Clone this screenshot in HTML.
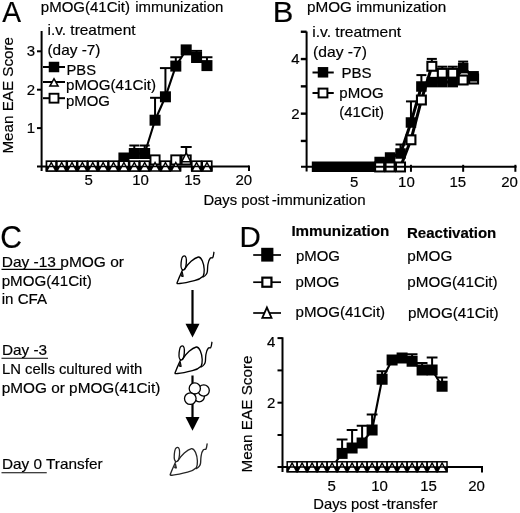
<!DOCTYPE html>
<html><head><meta charset="utf-8"><title>Figure</title>
<style>
html,body{margin:0;padding:0;background:#fff;}
svg{display:block;font-family:"Liberation Sans",Arial,Helvetica,sans-serif;fill:#000;}
text{stroke:#000;stroke-width:0.18px;}
</style></head><body>
<svg width="520" height="513" viewBox="0 0 520 513">
<rect width="520" height="513" fill="#fff"/>
<text x="2.3" y="22.10" font-size="29.9" textLength="18.8" lengthAdjust="spacingAndGlyphs">A</text>
<text x="40.8" y="12.40" font-size="15" textLength="89.2" lengthAdjust="spacingAndGlyphs">pMOG(41Cit)</text>
<text x="135.3" y="12.40" font-size="15" textLength="88" lengthAdjust="spacingAndGlyphs">immunization</text>
<text x="47.5" y="35.10" font-size="15" textLength="88" lengthAdjust="spacingAndGlyphs">i.v. treatment</text>
<text x="47.5" y="54.50" font-size="15" textLength="53" lengthAdjust="spacingAndGlyphs">(day -7)</text>
<text x="66.5" y="75.00" font-size="15" textLength="29.5" lengthAdjust="spacingAndGlyphs">PBS</text>
<text x="66" y="90.00" font-size="15" textLength="90" lengthAdjust="spacingAndGlyphs">pMOG(41Cit)</text>
<text x="66" y="105.50" font-size="15" textLength="44" lengthAdjust="spacingAndGlyphs">pMOG</text>
<text transform="translate(12.5,153.6) rotate(-90)" font-size="15" textLength="116.6" lengthAdjust="spacingAndGlyphs">Mean EAE Score</text>
<line x1="41.60" y1="31.00" x2="41.60" y2="171.00" stroke="#000" stroke-width="2" stroke-linecap="butt"/>
<line x1="37.00" y1="166.50" x2="249.00" y2="166.50" stroke="#000" stroke-width="2" stroke-linecap="butt"/>
<line x1="249.00" y1="165.50" x2="249.00" y2="171.00" stroke="#000" stroke-width="2" stroke-linecap="butt"/>
<line x1="37.00" y1="128.10" x2="41.60" y2="128.10" stroke="#000" stroke-width="2" stroke-linecap="butt"/>
<line x1="37.00" y1="89.70" x2="41.60" y2="89.70" stroke="#000" stroke-width="2" stroke-linecap="butt"/>
<line x1="37.00" y1="51.30" x2="41.60" y2="51.30" stroke="#000" stroke-width="2" stroke-linecap="butt"/>
<text x="35" y="133.00" font-size="15" text-anchor="end" textLength="8.34" lengthAdjust="spacingAndGlyphs">1</text>
<text x="35" y="94.60" font-size="15" text-anchor="end" textLength="8.34" lengthAdjust="spacingAndGlyphs">2</text>
<text x="35" y="56.20" font-size="15" text-anchor="end" textLength="8.34" lengthAdjust="spacingAndGlyphs">3</text>
<text x="88.75" y="184.50" font-size="15" text-anchor="middle" textLength="8.34" lengthAdjust="spacingAndGlyphs">5</text>
<text x="140.5" y="184.50" font-size="15" text-anchor="middle" textLength="16.68" lengthAdjust="spacingAndGlyphs">10</text>
<text x="192.5" y="184.50" font-size="15" text-anchor="middle" textLength="16.68" lengthAdjust="spacingAndGlyphs">15</text>
<text x="243.75" y="184.50" font-size="15" text-anchor="middle" textLength="16.68" lengthAdjust="spacingAndGlyphs">20</text>
<text x="203.4" y="204.50" font-size="15" textLength="65.8" lengthAdjust="spacingAndGlyphs">Days post</text>
<text x="271.8" y="204.50" font-size="15" textLength="93.8" lengthAdjust="spacingAndGlyphs">-immunization</text>
<line x1="43.00" y1="67.00" x2="65.00" y2="67.00" stroke="#000" stroke-width="2" stroke-linecap="butt"/>
<rect x="48.75" y="61.75" width="10.5" height="10.5" fill="#000"/>
<line x1="43.00" y1="82.00" x2="65.00" y2="82.00" stroke="#000" stroke-width="2" stroke-linecap="butt"/>
<polygon points="54.00,77.20 59.40,86.80 48.60,86.80" fill="#000"/>
<polygon points="54.00,80.36 56.75,85.25 51.25,85.25" fill="#fff"/>
<line x1="43.00" y1="98.20" x2="65.00" y2="98.20" stroke="#000" stroke-width="2" stroke-linecap="butt"/>
<rect x="49.55" y="93.75" width="8.90" height="8.90" fill="#fff" stroke="#000" stroke-width="1.9"/>
<polyline points="123.91,158.00 134.29,153.50 144.67,153.50 155.05,120.20 165.43,96.80 175.81,66.10 186.19,49.90 196.57,57.50 206.95,65.60" fill="none" stroke="#000" stroke-width="2.1" stroke-linejoin="round"/>
<line x1="134.29" y1="153.50" x2="134.29" y2="145.50" stroke="#000" stroke-width="2" stroke-linecap="butt"/>
<line x1="129.29" y1="145.50" x2="139.29" y2="145.50" stroke="#000" stroke-width="2" stroke-linecap="butt"/>
<line x1="144.67" y1="153.50" x2="144.67" y2="145.50" stroke="#000" stroke-width="2" stroke-linecap="butt"/>
<line x1="139.67" y1="145.50" x2="149.67" y2="145.50" stroke="#000" stroke-width="2" stroke-linecap="butt"/>
<line x1="155.05" y1="120.20" x2="155.05" y2="97.80" stroke="#000" stroke-width="2" stroke-linecap="butt"/>
<line x1="150.05" y1="97.80" x2="160.05" y2="97.80" stroke="#000" stroke-width="2" stroke-linecap="butt"/>
<line x1="165.43" y1="96.80" x2="165.43" y2="68.10" stroke="#000" stroke-width="2" stroke-linecap="butt"/>
<line x1="159.93" y1="68.10" x2="170.93" y2="68.10" stroke="#000" stroke-width="2" stroke-linecap="butt"/>
<line x1="175.81" y1="66.10" x2="175.81" y2="57.25" stroke="#000" stroke-width="2" stroke-linecap="butt"/>
<line x1="170.31" y1="57.25" x2="181.31" y2="57.25" stroke="#000" stroke-width="2" stroke-linecap="butt"/>
<line x1="196.57" y1="57.50" x2="196.57" y2="50.90" stroke="#000" stroke-width="2" stroke-linecap="butt"/>
<line x1="191.07" y1="50.90" x2="202.07" y2="50.90" stroke="#000" stroke-width="2" stroke-linecap="butt"/>
<line x1="206.95" y1="65.60" x2="206.95" y2="57.25" stroke="#000" stroke-width="2" stroke-linecap="butt"/>
<line x1="201.45" y1="57.25" x2="212.45" y2="57.25" stroke="#000" stroke-width="2" stroke-linecap="butt"/>
<rect x="118.41" y="152.50" width="11" height="11" fill="#000"/>
<rect x="128.79" y="148.00" width="11" height="11" fill="#000"/>
<rect x="139.17" y="148.00" width="11" height="11" fill="#000"/>
<rect x="149.55" y="114.70" width="11" height="11" fill="#000"/>
<rect x="159.93" y="91.30" width="11" height="11" fill="#000"/>
<rect x="170.31" y="60.60" width="11" height="11" fill="#000"/>
<rect x="180.69" y="44.40" width="11" height="11" fill="#000"/>
<rect x="191.07" y="52.00" width="11" height="11" fill="#000"/>
<rect x="201.45" y="60.10" width="11" height="11" fill="#000"/>
<rect x="150.50" y="155.35" width="9.10" height="9.10" fill="#fff" stroke="#000" stroke-width="1.9"/>
<rect x="171.26" y="155.35" width="9.10" height="9.10" fill="#fff" stroke="#000" stroke-width="1.9"/>
<rect x="181.64" y="155.35" width="9.10" height="9.10" fill="#fff" stroke="#000" stroke-width="1.9"/>
<rect x="46.45" y="161.20" width="9.60" height="9.60" fill="#fff" stroke="#000" stroke-width="1.7"/>
<rect x="56.83" y="161.20" width="9.60" height="9.60" fill="#fff" stroke="#000" stroke-width="1.7"/>
<rect x="67.21" y="161.20" width="9.60" height="9.60" fill="#fff" stroke="#000" stroke-width="1.7"/>
<rect x="77.59" y="161.20" width="9.60" height="9.60" fill="#fff" stroke="#000" stroke-width="1.7"/>
<rect x="87.97" y="161.20" width="9.60" height="9.60" fill="#fff" stroke="#000" stroke-width="1.7"/>
<rect x="98.35" y="161.20" width="9.60" height="9.60" fill="#fff" stroke="#000" stroke-width="1.7"/>
<rect x="108.73" y="161.20" width="9.60" height="9.60" fill="#fff" stroke="#000" stroke-width="1.7"/>
<rect x="119.11" y="161.20" width="9.60" height="9.60" fill="#fff" stroke="#000" stroke-width="1.7"/>
<rect x="129.49" y="161.20" width="9.60" height="9.60" fill="#fff" stroke="#000" stroke-width="1.7"/>
<rect x="139.87" y="161.20" width="9.60" height="9.60" fill="#fff" stroke="#000" stroke-width="1.7"/>
<rect x="160.63" y="161.20" width="9.60" height="9.60" fill="#fff" stroke="#000" stroke-width="1.7"/>
<rect x="191.77" y="161.20" width="9.60" height="9.60" fill="#fff" stroke="#000" stroke-width="1.7"/>
<rect x="202.15" y="161.20" width="9.60" height="9.60" fill="#fff" stroke="#000" stroke-width="1.7"/>
<rect x="45.65" y="166.5" width="135.76" height="4.6" fill="#000"/>
<rect x="190.97" y="166.5" width="21.58" height="4.6" fill="#000"/>
<polygon points="51.25,160.90 56.95,171.70 45.55,171.70" fill="#000"/>
<polygon points="51.25,163.90 54.63,170.30 47.87,170.30" fill="#fff"/>
<polygon points="61.63,160.90 67.33,171.70 55.93,171.70" fill="#000"/>
<polygon points="61.63,163.90 65.01,170.30 58.25,170.30" fill="#fff"/>
<polygon points="72.01,160.90 77.71,171.70 66.31,171.70" fill="#000"/>
<polygon points="72.01,163.90 75.39,170.30 68.63,170.30" fill="#fff"/>
<polygon points="82.39,160.90 88.09,171.70 76.69,171.70" fill="#000"/>
<polygon points="82.39,163.90 85.77,170.30 79.01,170.30" fill="#fff"/>
<polygon points="92.77,160.90 98.47,171.70 87.07,171.70" fill="#000"/>
<polygon points="92.77,163.90 96.15,170.30 89.39,170.30" fill="#fff"/>
<polygon points="103.15,160.90 108.85,171.70 97.45,171.70" fill="#000"/>
<polygon points="103.15,163.90 106.53,170.30 99.77,170.30" fill="#fff"/>
<polygon points="113.53,160.90 119.23,171.70 107.83,171.70" fill="#000"/>
<polygon points="113.53,163.90 116.91,170.30 110.15,170.30" fill="#fff"/>
<polygon points="123.91,160.90 129.61,171.70 118.21,171.70" fill="#000"/>
<polygon points="123.91,163.90 127.29,170.30 120.53,170.30" fill="#fff"/>
<polygon points="134.29,160.90 139.99,171.70 128.59,171.70" fill="#000"/>
<polygon points="134.29,163.90 137.67,170.30 130.91,170.30" fill="#fff"/>
<polygon points="144.67,160.90 150.37,171.70 138.97,171.70" fill="#000"/>
<polygon points="144.67,163.90 148.05,170.30 141.29,170.30" fill="#fff"/>
<polygon points="155.05,160.90 160.75,171.70 149.35,171.70" fill="#000"/>
<polygon points="155.05,163.90 158.43,170.30 151.67,170.30" fill="#fff"/>
<polygon points="165.43,160.90 171.13,171.70 159.73,171.70" fill="#000"/>
<polygon points="165.43,163.90 168.81,170.30 162.05,170.30" fill="#fff"/>
<polygon points="175.81,160.90 181.51,171.70 170.11,171.70" fill="#000"/>
<polygon points="175.81,163.90 179.19,170.30 172.43,170.30" fill="#fff"/>
<polygon points="196.57,160.90 202.27,171.70 190.87,171.70" fill="#000"/>
<polygon points="196.57,163.90 199.95,170.30 193.19,170.30" fill="#fff"/>
<polygon points="206.95,160.90 212.65,171.70 201.25,171.70" fill="#000"/>
<polygon points="206.95,163.90 210.33,170.30 203.57,170.30" fill="#fff"/>
<line x1="186.19" y1="157.00" x2="186.19" y2="147.00" stroke="#000" stroke-width="2" stroke-linecap="butt"/>
<line x1="180.69" y1="147.00" x2="191.69" y2="147.00" stroke="#000" stroke-width="2" stroke-linecap="butt"/>
<polygon points="186.19,151.30 191.89,162.50 180.49,162.50" fill="#000"/>
<polygon points="186.19,154.61 189.44,161.00 182.94,161.00" fill="#fff"/>
<line x1="46.00" y1="166.50" x2="212.00" y2="166.50" stroke="#000" stroke-width="1.6" stroke-linecap="butt"/>
<text x="272.8" y="22.30" font-size="29.9" textLength="20.6" lengthAdjust="spacingAndGlyphs">B</text>
<text x="307" y="12.30" font-size="15" textLength="139.2" lengthAdjust="spacingAndGlyphs">pMOG immunization</text>
<text x="312.2" y="37.30" font-size="15" textLength="89" lengthAdjust="spacingAndGlyphs">i.v. treatment</text>
<text x="313" y="57.00" font-size="15" textLength="54" lengthAdjust="spacingAndGlyphs">(day -7)</text>
<text x="341.4" y="77.50" font-size="15" textLength="30.2" lengthAdjust="spacingAndGlyphs">PBS</text>
<text x="339.3" y="97.50" font-size="15" textLength="44.3" lengthAdjust="spacingAndGlyphs">pMOG</text>
<text x="339.3" y="116.70" font-size="15" textLength="44.8" lengthAdjust="spacingAndGlyphs">(41Cit)</text>
<line x1="306.60" y1="31.50" x2="306.60" y2="171.50" stroke="#000" stroke-width="2" stroke-linecap="butt"/>
<line x1="301.00" y1="166.75" x2="516.50" y2="166.75" stroke="#000" stroke-width="2" stroke-linecap="butt"/>
<line x1="300.80" y1="140.95" x2="306.60" y2="140.95" stroke="#000" stroke-width="2.4" stroke-linecap="butt"/>
<line x1="300.80" y1="113.65" x2="306.60" y2="113.65" stroke="#000" stroke-width="2.4" stroke-linecap="butt"/>
<line x1="300.80" y1="86.35" x2="306.60" y2="86.35" stroke="#000" stroke-width="2.4" stroke-linecap="butt"/>
<line x1="300.80" y1="59.05" x2="306.60" y2="59.05" stroke="#000" stroke-width="2.4" stroke-linecap="butt"/>
<line x1="300.80" y1="31.75" x2="306.60" y2="31.75" stroke="#000" stroke-width="2.4" stroke-linecap="butt"/>
<text x="299.6" y="64.05" font-size="15" text-anchor="end" textLength="8.34" lengthAdjust="spacingAndGlyphs">4</text>
<text x="299.6" y="118.65" font-size="15" text-anchor="end" textLength="8.34" lengthAdjust="spacingAndGlyphs">2</text>
<line x1="410.96" y1="164.80" x2="410.96" y2="171.80" stroke="#000" stroke-width="2" stroke-linecap="butt"/>
<line x1="463.16" y1="164.80" x2="463.16" y2="171.80" stroke="#000" stroke-width="2" stroke-linecap="butt"/>
<line x1="515.36" y1="164.80" x2="515.36" y2="171.80" stroke="#000" stroke-width="2" stroke-linecap="butt"/>
<text x="354.25" y="186.50" font-size="15" text-anchor="middle" textLength="8.34" lengthAdjust="spacingAndGlyphs">5</text>
<text x="406.4" y="186.50" font-size="15" text-anchor="middle" textLength="16.68" lengthAdjust="spacingAndGlyphs">10</text>
<text x="457.8" y="186.50" font-size="15" text-anchor="middle" textLength="16.68" lengthAdjust="spacingAndGlyphs">15</text>
<text x="509.6" y="186.50" font-size="15" text-anchor="middle" textLength="16.68" lengthAdjust="spacingAndGlyphs">20</text>
<line x1="312.50" y1="72.50" x2="333.75" y2="72.50" stroke="#000" stroke-width="2" stroke-linecap="butt"/>
<rect x="317.75" y="67.05" width="10.5" height="10.5" fill="#000"/>
<line x1="312.50" y1="93.00" x2="333.75" y2="93.00" stroke="#000" stroke-width="2" stroke-linecap="butt"/>
<rect x="318.60" y="88.60" width="8.80" height="8.80" fill="#fff" stroke="#000" stroke-width="2"/>
<polyline points="400.52,166.75 410.96,139.80 421.40,100.00 431.84,66.30 442.28,73.30 452.72,73.30 463.16,80.00 473.60,79.00" fill="none" stroke="#000" stroke-width="3" stroke-linejoin="round"/>
<polyline points="369.20,166.75 379.64,162.00 390.08,157.50 400.52,153.50 410.96,122.50 421.40,86.50 431.84,82.10 442.28,82.10 452.72,82.10 463.16,68.10 473.60,76.30" fill="none" stroke="#000" stroke-width="3" stroke-linejoin="round"/>
<line x1="431.84" y1="66.30" x2="431.84" y2="58.90" stroke="#000" stroke-width="2" stroke-linecap="butt"/>
<line x1="426.84" y1="58.90" x2="436.84" y2="58.90" stroke="#000" stroke-width="2" stroke-linecap="butt"/>
<line x1="442.28" y1="73.30" x2="442.28" y2="66.70" stroke="#000" stroke-width="2" stroke-linecap="butt"/>
<line x1="437.28" y1="66.70" x2="447.28" y2="66.70" stroke="#000" stroke-width="2" stroke-linecap="butt"/>
<line x1="452.72" y1="73.30" x2="452.72" y2="66.70" stroke="#000" stroke-width="2" stroke-linecap="butt"/>
<line x1="447.72" y1="66.70" x2="457.72" y2="66.70" stroke="#000" stroke-width="2" stroke-linecap="butt"/>
<line x1="400.52" y1="153.50" x2="400.52" y2="144.50" stroke="#000" stroke-width="2" stroke-linecap="butt"/>
<line x1="395.52" y1="144.50" x2="405.52" y2="144.50" stroke="#000" stroke-width="2" stroke-linecap="butt"/>
<line x1="410.96" y1="122.50" x2="410.96" y2="101.40" stroke="#000" stroke-width="2" stroke-linecap="butt"/>
<line x1="405.96" y1="101.40" x2="415.96" y2="101.40" stroke="#000" stroke-width="2" stroke-linecap="butt"/>
<line x1="421.40" y1="86.50" x2="421.40" y2="75.10" stroke="#000" stroke-width="2" stroke-linecap="butt"/>
<line x1="416.40" y1="75.10" x2="426.40" y2="75.10" stroke="#000" stroke-width="2" stroke-linecap="butt"/>
<line x1="463.16" y1="68.10" x2="463.16" y2="61.60" stroke="#000" stroke-width="2" stroke-linecap="butt"/>
<line x1="458.16" y1="61.60" x2="468.16" y2="61.60" stroke="#000" stroke-width="2" stroke-linecap="butt"/>
<rect x="406.51" y="135.35" width="8.90" height="8.90" fill="#fff" stroke="#000" stroke-width="2.1"/>
<rect x="416.95" y="95.55" width="8.90" height="8.90" fill="#fff" stroke="#000" stroke-width="2.1"/>
<rect x="427.39" y="61.85" width="8.90" height="8.90" fill="#fff" stroke="#000" stroke-width="2.1"/>
<rect x="437.83" y="68.85" width="8.90" height="8.90" fill="#fff" stroke="#000" stroke-width="2.1"/>
<rect x="448.27" y="68.85" width="8.90" height="8.90" fill="#fff" stroke="#000" stroke-width="2.1"/>
<rect x="458.71" y="75.55" width="8.90" height="8.90" fill="#fff" stroke="#000" stroke-width="2.1"/>
<rect x="469.15" y="74.55" width="8.90" height="8.90" fill="#fff" stroke="#000" stroke-width="2.1"/>
<rect x="374.39" y="156.75" width="10.5" height="10.5" fill="#000"/>
<rect x="384.83" y="152.25" width="10.5" height="10.5" fill="#000"/>
<rect x="395.27" y="148.25" width="10.5" height="10.5" fill="#000"/>
<rect x="405.71" y="117.25" width="10.5" height="10.5" fill="#000"/>
<rect x="416.15" y="81.25" width="10.5" height="10.5" fill="#000"/>
<rect x="426.59" y="76.85" width="10.5" height="10.5" fill="#000"/>
<rect x="437.03" y="76.85" width="10.5" height="10.5" fill="#000"/>
<rect x="447.47" y="76.85" width="10.5" height="10.5" fill="#000"/>
<rect x="457.91" y="62.85" width="10.5" height="10.5" fill="#000"/>
<rect x="468.35" y="71.05" width="10.5" height="10.5" fill="#000"/>
<rect x="311.8" y="161.5" width="63.4" height="10.5" fill="#000"/>
<rect x="375.14" y="162.45" width="9.00" height="9.00" fill="#fff" stroke="#000" stroke-width="2"/>
<rect x="385.58" y="162.45" width="9.00" height="9.00" fill="#fff" stroke="#000" stroke-width="2"/>
<rect x="396.02" y="162.45" width="9.00" height="9.00" fill="#fff" stroke="#000" stroke-width="2"/>
<line x1="375.00" y1="166.75" x2="406.00" y2="166.75" stroke="#000" stroke-width="2" stroke-linecap="butt"/>
<text x="0.3" y="247.90" font-size="32" textLength="21.7" lengthAdjust="spacingAndGlyphs">C</text>
<text x="1.7" y="266.60" font-size="15" textLength="122.3" lengthAdjust="spacingAndGlyphs">Day -13 pMOG or</text>
<line x1="1.50" y1="269.40" x2="61.25" y2="269.40" stroke="#000" stroke-width="1.1" stroke-linecap="butt"/>
<text x="1.7" y="285.60" font-size="15" textLength="90" lengthAdjust="spacingAndGlyphs">pMOG(41Cit)</text>
<text x="1.7" y="303.50" font-size="15" textLength="45.3" lengthAdjust="spacingAndGlyphs">in CFA</text>
<text x="1.9" y="354.50" font-size="15" textLength="45.2" lengthAdjust="spacingAndGlyphs">Day -3</text>
<line x1="1.50" y1="358.20" x2="48.00" y2="358.20" stroke="#000" stroke-width="1.1" stroke-linecap="butt"/>
<text x="2" y="374.20" font-size="15" textLength="140.3" lengthAdjust="spacingAndGlyphs">LN cells cultured with</text>
<text x="1.8" y="393.00" font-size="15" textLength="158.5" lengthAdjust="spacingAndGlyphs">pMOG or pMOG(41Cit)</text>
<text x="2" y="469.20" font-size="15" textLength="100.6" lengthAdjust="spacingAndGlyphs">Day 0 Transfer</text>
<line x1="1.50" y1="472.80" x2="46.75" y2="472.80" stroke="#000" stroke-width="1.1" stroke-linecap="butt"/>
<g fill="none" stroke="#000" stroke-width="1.35" stroke-linecap="round" stroke-linejoin="round"><ellipse cx="183.7" cy="262.9" rx="2.6" ry="7.1" transform="rotate(5 183.7 262.9)"/><path d="M184.6 269.2 C188 263.5 194 258 198.3 257 C201.5 256.8 204 263.5 204.2 269.4 C204.3 272.5 204 274.5 203.1 276.2 C200.5 278.8 198 279.8 194.4 280.6 C189 282 183 283.2 179.7 283.5 C178 283.8 176.8 283.8 177 283 C178.5 279 180.5 274.5 182.4 270.4"/><path d="M203.1 277 C205.5 275.8 207.2 273.5 207.4 271.3 C207.6 269 207.5 267 207.9 264.5 C208.3 262 209 259.5 210.2 258.2 C211.2 257.2 211.8 258.3 212.7 257.6 C213.4 256.8 213.6 254.5 213.9 252.3"/><path d="M182.3 272.6 L181.4 276.3 L182.9 276.5 Z" fill="#000" stroke-width="1"/></g>
<g transform="translate(-2,90)"><g fill="none" stroke="#000" stroke-width="1.35" stroke-linecap="round" stroke-linejoin="round"><ellipse cx="183.7" cy="262.9" rx="2.6" ry="7.1" transform="rotate(5 183.7 262.9)"/><path d="M184.6 269.2 C188 263.5 194 258 198.3 257 C201.5 256.8 204 263.5 204.2 269.4 C204.3 272.5 204 274.5 203.1 276.2 C200.5 278.8 198 279.8 194.4 280.6 C189 282 183 283.2 179.7 283.5 C178 283.8 176.8 283.8 177 283 C178.5 279 180.5 274.5 182.4 270.4"/><path d="M203.1 277 C205.5 275.8 207.2 273.5 207.4 271.3 C207.6 269 207.5 267 207.9 264.5 C208.3 262 209 259.5 210.2 258.2 C211.2 257.2 211.8 258.3 212.7 257.6 C213.4 256.8 213.6 254.5 213.9 252.3"/><path d="M182.3 272.6 L181.4 276.3 L182.9 276.5 Z" fill="#000" stroke-width="1"/></g></g>
<g transform="translate(-6.8,191.6)" opacity="0.85"><g fill="none" stroke="#000" stroke-width="1.35" stroke-linecap="round" stroke-linejoin="round"><ellipse cx="183.7" cy="262.9" rx="2.6" ry="7.1" transform="rotate(5 183.7 262.9)"/><path d="M184.6 269.2 C188 263.5 194 258 198.3 257 C201.5 256.8 204 263.5 204.2 269.4 C204.3 272.5 204 274.5 203.1 276.2 C200.5 278.8 198 279.8 194.4 280.6 C189 282 183 283.2 179.7 283.5 C178 283.8 176.8 283.8 177 283 C178.5 279 180.5 274.5 182.4 270.4"/><path d="M203.1 277 C205.5 275.8 207.2 273.5 207.4 271.3 C207.6 269 207.5 267 207.9 264.5 C208.3 262 209 259.5 210.2 258.2 C211.2 257.2 211.8 258.3 212.7 257.6 C213.4 256.8 213.6 254.5 213.9 252.3"/><path d="M182.3 272.6 L181.4 276.3 L182.9 276.5 Z" fill="#000" stroke-width="1"/></g></g>
<line x1="192.50" y1="290.00" x2="192.50" y2="324.75" stroke="#000" stroke-width="2.2" stroke-linecap="butt"/>
<polygon points="185.5,323.75 199.5,323.75 192.5,337.5" fill="#000"/>
<line x1="192.50" y1="375.50" x2="192.50" y2="384.00" stroke="#000" stroke-width="2.2" stroke-linecap="butt"/>
<line x1="192.50" y1="404.00" x2="192.50" y2="418.00" stroke="#000" stroke-width="2.2" stroke-linecap="butt"/>
<polygon points="185.5,417 199.5,417 192.5,430.7" fill="#000"/>
<circle cx="199.2" cy="396.6" r="5.2" fill="#fff" stroke="#000" stroke-width="1.3"/>
<circle cx="203.7" cy="390.5" r="5.6" fill="#fff" stroke="#000" stroke-width="1.3"/>
<circle cx="194.8" cy="388.4" r="5.6" fill="#fff" stroke="#000" stroke-width="1.3"/>
<circle cx="190.3" cy="398.6" r="5.8" fill="#fff" stroke="#000" stroke-width="1.3"/>
<text x="239.6" y="247.00" font-size="29.5">D</text>
<text x="291.4" y="236.20" font-size="15" font-weight="bold" textLength="97.8" lengthAdjust="spacingAndGlyphs">Immunization</text>
<text x="407" y="237.60" font-size="15" font-weight="bold" textLength="89.3" lengthAdjust="spacingAndGlyphs">Reactivation</text>
<text x="296" y="260.80" font-size="15" textLength="44" lengthAdjust="spacingAndGlyphs">pMOG</text>
<text x="407.3" y="260.50" font-size="15" textLength="45" lengthAdjust="spacingAndGlyphs">pMOG</text>
<text x="295.5" y="287.30" font-size="15" textLength="44" lengthAdjust="spacingAndGlyphs">pMOG</text>
<text x="407.3" y="287.20" font-size="15" textLength="90.3" lengthAdjust="spacingAndGlyphs">pMOG(41Cit)</text>
<text x="295.5" y="317.30" font-size="15" textLength="89.6" lengthAdjust="spacingAndGlyphs">pMOG(41Cit)</text>
<text x="407.9" y="317.80" font-size="15" textLength="90.6" lengthAdjust="spacingAndGlyphs">pMOG(41Cit)</text>
<line x1="253.20" y1="255.00" x2="281.00" y2="255.00" stroke="#000" stroke-width="1.7" stroke-linecap="butt"/>
<rect x="261.2" y="247.8" width="12.2" height="13.8" fill="#000"/>
<line x1="253.20" y1="282.20" x2="281.00" y2="282.20" stroke="#000" stroke-width="1.7" stroke-linecap="butt"/>
<rect x="262.35" y="277.65" width="9.10" height="9.10" fill="#fff" stroke="#000" stroke-width="2.2"/>
<line x1="253.20" y1="313.00" x2="281.00" y2="313.00" stroke="#000" stroke-width="1.7" stroke-linecap="butt"/>
<polygon points="266.90,305.20 272.90,318.80 260.90,318.80" fill="#000"/>
<polygon points="266.90,309.66 270.14,317.00 263.66,317.00" fill="#fff"/>
<line x1="282.50" y1="337.30" x2="282.50" y2="472.00" stroke="#000" stroke-width="2" stroke-linecap="butt"/>
<line x1="277.50" y1="467.00" x2="482.00" y2="467.00" stroke="#000" stroke-width="2" stroke-linecap="butt"/>
<line x1="482.00" y1="466.00" x2="482.00" y2="472.60" stroke="#000" stroke-width="2" stroke-linecap="butt"/>
<line x1="277.50" y1="435.00" x2="282.50" y2="435.00" stroke="#000" stroke-width="2" stroke-linecap="butt"/>
<line x1="277.50" y1="402.70" x2="282.50" y2="402.70" stroke="#000" stroke-width="2" stroke-linecap="butt"/>
<line x1="277.50" y1="370.40" x2="282.50" y2="370.40" stroke="#000" stroke-width="2" stroke-linecap="butt"/>
<line x1="277.50" y1="338.10" x2="282.50" y2="338.10" stroke="#000" stroke-width="2" stroke-linecap="butt"/>
<text x="275.3" y="346.70" font-size="15" text-anchor="end" textLength="8.34" lengthAdjust="spacingAndGlyphs">4</text>
<text x="275.3" y="407.80" font-size="15" text-anchor="end" textLength="8.34" lengthAdjust="spacingAndGlyphs">2</text>
<text x="331.6" y="490.50" font-size="15" text-anchor="middle" textLength="8.34" lengthAdjust="spacingAndGlyphs">5</text>
<text x="379.6" y="490.50" font-size="15" text-anchor="middle" textLength="16.68" lengthAdjust="spacingAndGlyphs">10</text>
<text x="428.5" y="490.50" font-size="15" text-anchor="middle" textLength="16.68" lengthAdjust="spacingAndGlyphs">15</text>
<text x="476.5" y="490.50" font-size="15" text-anchor="middle" textLength="16.68" lengthAdjust="spacingAndGlyphs">20</text>
<text x="313.25" y="508.60" font-size="15" textLength="65.7" lengthAdjust="spacingAndGlyphs">Days post</text>
<text x="381.7" y="508.60" font-size="15" textLength="55.9" lengthAdjust="spacingAndGlyphs">-transfer</text>
<text transform="translate(252.2,472.6) rotate(-90)" font-size="15" textLength="117.2" lengthAdjust="spacingAndGlyphs">Mean EAE Score</text>
<polyline points="332.10,467.00 342.10,453.40 352.10,448.00 362.10,443.00 372.10,430.00 382.10,379.25 392.10,360.00 402.10,358.00 412.10,361.25 422.10,370.00 432.10,370.00 442.10,386.25" fill="none" stroke="#000" stroke-width="2.1" stroke-linejoin="round"/>
<line x1="342.10" y1="453.40" x2="342.10" y2="439.50" stroke="#000" stroke-width="2" stroke-linecap="butt"/>
<line x1="336.70" y1="439.50" x2="347.50" y2="439.50" stroke="#000" stroke-width="2" stroke-linecap="butt"/>
<line x1="352.10" y1="448.00" x2="352.10" y2="430.00" stroke="#000" stroke-width="2" stroke-linecap="butt"/>
<line x1="346.70" y1="430.00" x2="357.50" y2="430.00" stroke="#000" stroke-width="2" stroke-linecap="butt"/>
<line x1="362.10" y1="443.00" x2="362.10" y2="425.75" stroke="#000" stroke-width="2" stroke-linecap="butt"/>
<line x1="356.70" y1="425.75" x2="367.50" y2="425.75" stroke="#000" stroke-width="2" stroke-linecap="butt"/>
<line x1="372.10" y1="430.00" x2="372.10" y2="414.50" stroke="#000" stroke-width="2" stroke-linecap="butt"/>
<line x1="366.70" y1="414.50" x2="377.50" y2="414.50" stroke="#000" stroke-width="2" stroke-linecap="butt"/>
<line x1="382.10" y1="379.25" x2="382.10" y2="371.25" stroke="#000" stroke-width="2" stroke-linecap="butt"/>
<line x1="376.70" y1="371.25" x2="387.50" y2="371.25" stroke="#000" stroke-width="2" stroke-linecap="butt"/>
<line x1="412.10" y1="361.25" x2="412.10" y2="354.25" stroke="#000" stroke-width="2" stroke-linecap="butt"/>
<line x1="406.70" y1="354.25" x2="417.50" y2="354.25" stroke="#000" stroke-width="2" stroke-linecap="butt"/>
<line x1="422.10" y1="370.00" x2="422.10" y2="363.00" stroke="#000" stroke-width="2" stroke-linecap="butt"/>
<line x1="416.70" y1="363.00" x2="427.50" y2="363.00" stroke="#000" stroke-width="2" stroke-linecap="butt"/>
<line x1="432.10" y1="370.00" x2="432.10" y2="357.50" stroke="#000" stroke-width="2" stroke-linecap="butt"/>
<line x1="426.70" y1="357.50" x2="437.50" y2="357.50" stroke="#000" stroke-width="2" stroke-linecap="butt"/>
<line x1="442.10" y1="386.25" x2="442.10" y2="377.50" stroke="#000" stroke-width="2" stroke-linecap="butt"/>
<line x1="436.70" y1="377.50" x2="447.50" y2="377.50" stroke="#000" stroke-width="2" stroke-linecap="butt"/>
<rect x="336.60" y="447.90" width="11" height="11" fill="#000"/>
<rect x="346.60" y="442.50" width="11" height="11" fill="#000"/>
<rect x="356.60" y="437.50" width="11" height="11" fill="#000"/>
<rect x="366.60" y="424.50" width="11" height="11" fill="#000"/>
<rect x="376.60" y="373.75" width="11" height="11" fill="#000"/>
<rect x="386.60" y="354.50" width="11" height="11" fill="#000"/>
<rect x="396.60" y="352.50" width="11" height="11" fill="#000"/>
<rect x="406.60" y="355.75" width="11" height="11" fill="#000"/>
<rect x="416.60" y="364.50" width="11" height="11" fill="#000"/>
<rect x="426.60" y="364.50" width="11" height="11" fill="#000"/>
<rect x="436.60" y="380.75" width="11" height="11" fill="#000"/>
<rect x="287.20" y="461.80" width="9.80" height="9.80" fill="#fff" stroke="#000" stroke-width="1.5"/>
<rect x="297.20" y="461.80" width="9.80" height="9.80" fill="#fff" stroke="#000" stroke-width="1.5"/>
<rect x="307.20" y="461.80" width="9.80" height="9.80" fill="#fff" stroke="#000" stroke-width="1.5"/>
<rect x="317.20" y="461.80" width="9.80" height="9.80" fill="#fff" stroke="#000" stroke-width="1.5"/>
<rect x="327.20" y="461.80" width="9.80" height="9.80" fill="#fff" stroke="#000" stroke-width="1.5"/>
<rect x="337.20" y="461.80" width="9.80" height="9.80" fill="#fff" stroke="#000" stroke-width="1.5"/>
<rect x="347.20" y="461.80" width="9.80" height="9.80" fill="#fff" stroke="#000" stroke-width="1.5"/>
<rect x="357.20" y="461.80" width="9.80" height="9.80" fill="#fff" stroke="#000" stroke-width="1.5"/>
<rect x="367.20" y="461.80" width="9.80" height="9.80" fill="#fff" stroke="#000" stroke-width="1.5"/>
<rect x="377.20" y="461.80" width="9.80" height="9.80" fill="#fff" stroke="#000" stroke-width="1.5"/>
<rect x="387.20" y="461.80" width="9.80" height="9.80" fill="#fff" stroke="#000" stroke-width="1.5"/>
<rect x="397.20" y="461.80" width="9.80" height="9.80" fill="#fff" stroke="#000" stroke-width="1.5"/>
<rect x="407.20" y="461.80" width="9.80" height="9.80" fill="#fff" stroke="#000" stroke-width="1.5"/>
<rect x="417.20" y="461.80" width="9.80" height="9.80" fill="#fff" stroke="#000" stroke-width="1.5"/>
<rect x="427.20" y="461.80" width="9.80" height="9.80" fill="#fff" stroke="#000" stroke-width="1.5"/>
<rect x="437.20" y="461.80" width="9.80" height="9.80" fill="#fff" stroke="#000" stroke-width="1.5"/>
<rect x="286.50" y="467" width="161.20" height="4.8" fill="#000"/>
<polygon points="292.10,461.60 297.90,472.40 286.30,472.40" fill="#000"/>
<polygon points="292.10,464.56 295.56,471.00 288.64,471.00" fill="#fff"/>
<polygon points="302.10,461.60 307.90,472.40 296.30,472.40" fill="#000"/>
<polygon points="302.10,464.56 305.56,471.00 298.64,471.00" fill="#fff"/>
<polygon points="312.10,461.60 317.90,472.40 306.30,472.40" fill="#000"/>
<polygon points="312.10,464.56 315.56,471.00 308.64,471.00" fill="#fff"/>
<polygon points="322.10,461.60 327.90,472.40 316.30,472.40" fill="#000"/>
<polygon points="322.10,464.56 325.56,471.00 318.64,471.00" fill="#fff"/>
<polygon points="332.10,461.60 337.90,472.40 326.30,472.40" fill="#000"/>
<polygon points="332.10,464.56 335.56,471.00 328.64,471.00" fill="#fff"/>
<polygon points="342.10,461.60 347.90,472.40 336.30,472.40" fill="#000"/>
<polygon points="342.10,464.56 345.56,471.00 338.64,471.00" fill="#fff"/>
<polygon points="352.10,461.60 357.90,472.40 346.30,472.40" fill="#000"/>
<polygon points="352.10,464.56 355.56,471.00 348.64,471.00" fill="#fff"/>
<polygon points="362.10,461.60 367.90,472.40 356.30,472.40" fill="#000"/>
<polygon points="362.10,464.56 365.56,471.00 358.64,471.00" fill="#fff"/>
<polygon points="372.10,461.60 377.90,472.40 366.30,472.40" fill="#000"/>
<polygon points="372.10,464.56 375.56,471.00 368.64,471.00" fill="#fff"/>
<polygon points="382.10,461.60 387.90,472.40 376.30,472.40" fill="#000"/>
<polygon points="382.10,464.56 385.56,471.00 378.64,471.00" fill="#fff"/>
<polygon points="392.10,461.60 397.90,472.40 386.30,472.40" fill="#000"/>
<polygon points="392.10,464.56 395.56,471.00 388.64,471.00" fill="#fff"/>
<polygon points="402.10,461.60 407.90,472.40 396.30,472.40" fill="#000"/>
<polygon points="402.10,464.56 405.56,471.00 398.64,471.00" fill="#fff"/>
<polygon points="412.10,461.60 417.90,472.40 406.30,472.40" fill="#000"/>
<polygon points="412.10,464.56 415.56,471.00 408.64,471.00" fill="#fff"/>
<polygon points="422.10,461.60 427.90,472.40 416.30,472.40" fill="#000"/>
<polygon points="422.10,464.56 425.56,471.00 418.64,471.00" fill="#fff"/>
<polygon points="432.10,461.60 437.90,472.40 426.30,472.40" fill="#000"/>
<polygon points="432.10,464.56 435.56,471.00 428.64,471.00" fill="#fff"/>
<polygon points="442.10,461.60 447.90,472.40 436.30,472.40" fill="#000"/>
<polygon points="442.10,464.56 445.56,471.00 438.64,471.00" fill="#fff"/>
<line x1="287.00" y1="467.00" x2="447.00" y2="467.00" stroke="#000" stroke-width="1.7" stroke-linecap="butt"/>
</svg>
</body></html>
